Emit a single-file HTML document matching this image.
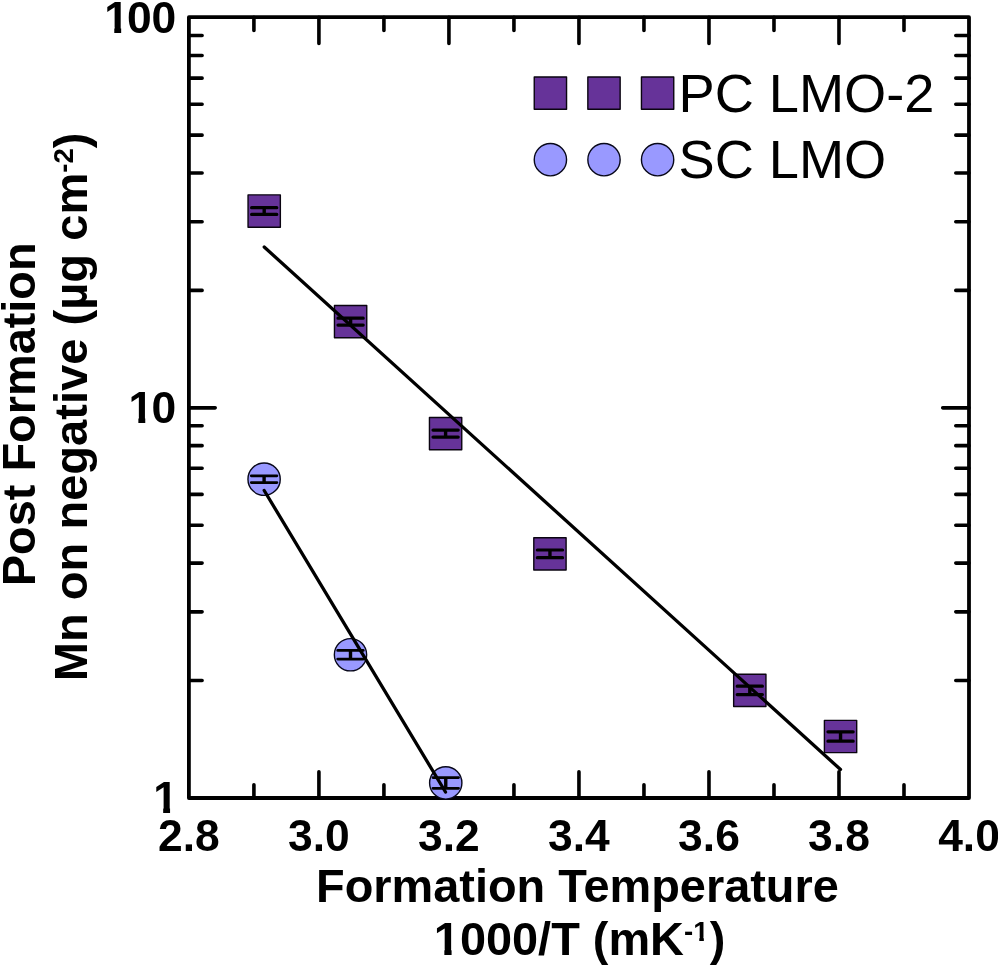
<!DOCTYPE html>
<html lang="en"><head><meta charset="utf-8"><title>Mn on negative vs formation temperature</title>
<style>html,body{margin:0;padding:0;background:#fff}body{width:998px;height:967px;overflow:hidden}svg{display:block}text{font-family:"Liberation Sans",Arial,Helvetica,sans-serif;fill:#000}.b{font-weight:bold}</style></head><body>
<svg width="998" height="967" viewBox="0 0 998 967">
<rect width="998" height="967" fill="#fff"/>
<path d="M253.91 17.20v13.2M253.91 798.00v-13.2M318.92 17.20v26.3M318.92 798.00v-26.3M383.92 17.20v13.2M383.92 798.00v-13.2M448.93 17.20v26.3M448.93 798.00v-26.3M513.94 17.20v13.2M513.94 798.00v-13.2M578.95 17.20v26.3M578.95 798.00v-26.3M643.96 17.20v13.2M643.96 798.00v-13.2M708.97 17.20v26.3M708.97 798.00v-26.3M773.98 17.20v13.2M773.98 798.00v-13.2M838.98 17.20v26.3M838.98 798.00v-26.3M903.99 17.20v13.2M903.99 798.00v-13.2M188.90 680.55h13.2M969.00 680.55h-13.2M188.90 611.85h13.2M969.00 611.85h-13.2M188.90 563.11h13.2M969.00 563.11h-13.2M188.90 525.30h13.2M969.00 525.30h-13.2M188.90 494.40h13.2M969.00 494.40h-13.2M188.90 468.28h13.2M969.00 468.28h-13.2M188.90 445.66h13.2M969.00 445.66h-13.2M188.90 425.70h13.2M969.00 425.70h-13.2M188.90 407.85h26.3M969.00 407.85h-26.3M188.90 290.40h13.2M969.00 290.40h-13.2M188.90 221.70h13.2M969.00 221.70h-13.2M188.90 172.96h13.2M969.00 172.96h-13.2M188.90 135.15h13.2M969.00 135.15h-13.2M188.90 104.25h13.2M969.00 104.25h-13.2M188.90 78.13h13.2M969.00 78.13h-13.2M188.90 55.51h13.2M969.00 55.51h-13.2M188.90 35.55h13.2M969.00 35.55h-13.2" fill="none" stroke="#000" stroke-width="3.6" stroke-linecap="round"/>
<rect x="188.9" y="17.2" width="780.10" height="780.80" fill="none" stroke="#000" stroke-width="3.8" stroke-linejoin="round"/>
<rect x="248.05" y="194.90" width="32.3" height="32.3" fill="#663399" stroke="#0a0410" stroke-width="1.4" stroke-linejoin="round"/>
<path d="M251.60 207.70h25.2M251.60 214.40h25.2" stroke="#000" stroke-width="3.2" stroke-linecap="round" fill="none"/><path d="M264.20 207.70v6.70" stroke="#000" stroke-width="3.4" fill="none"/>
<rect x="334.45" y="305.45" width="32.3" height="32.3" fill="#663399" stroke="#0a0410" stroke-width="1.4" stroke-linejoin="round"/>
<path d="M338.00 318.15h25.2M338.00 325.05h25.2" stroke="#000" stroke-width="3.2" stroke-linecap="round" fill="none"/><path d="M350.60 318.15v6.90" stroke="#000" stroke-width="3.4" fill="none"/>
<rect x="429.45" y="417.45" width="32.3" height="32.3" fill="#663399" stroke="#0a0410" stroke-width="1.4" stroke-linejoin="round"/>
<path d="M433.00 430.10h25.2M433.00 437.10h25.2" stroke="#000" stroke-width="3.2" stroke-linecap="round" fill="none"/><path d="M445.60 430.10v7.00" stroke="#000" stroke-width="3.4" fill="none"/>
<rect x="533.80" y="537.70" width="32.3" height="32.3" fill="#663399" stroke="#0a0410" stroke-width="1.4" stroke-linejoin="round"/>
<path d="M537.35 550.00h25.2M537.35 557.70h25.2" stroke="#000" stroke-width="3.2" stroke-linecap="round" fill="none"/><path d="M549.95 550.00v7.70" stroke="#000" stroke-width="3.4" fill="none"/>
<rect x="733.65" y="674.20" width="32.3" height="32.3" fill="#663399" stroke="#0a0410" stroke-width="1.4" stroke-linejoin="round"/>
<path d="M737.20 686.15h25.2M737.20 694.55h25.2" stroke="#000" stroke-width="3.2" stroke-linecap="round" fill="none"/><path d="M749.80 686.15v8.40" stroke="#000" stroke-width="3.4" fill="none"/>
<rect x="824.40" y="720.35" width="32.3" height="32.3" fill="#663399" stroke="#0a0410" stroke-width="1.4" stroke-linejoin="round"/>
<path d="M827.95 731.85h25.2M827.95 741.15h25.2" stroke="#000" stroke-width="3.2" stroke-linecap="round" fill="none"/><path d="M840.55 731.85v9.30" stroke="#000" stroke-width="3.4" fill="none"/>
<circle cx="264.10" cy="479.20" r="16.15" fill="#9999ff" stroke="#08081a" stroke-width="1.4"/>
<path d="M251.30 475.80h25.6M251.30 482.60h25.6" stroke="#000" stroke-width="2.8" stroke-linecap="round" fill="none"/><path d="M264.10 475.80v6.80" stroke="#000" stroke-width="3.4" fill="none"/>
<circle cx="350.50" cy="654.75" r="16.15" fill="#9999ff" stroke="#08081a" stroke-width="1.4"/>
<path d="M337.70 650.40h25.6M337.70 659.10h25.6" stroke="#000" stroke-width="2.8" stroke-linecap="round" fill="none"/><path d="M350.50 650.40v8.70" stroke="#000" stroke-width="3.4" fill="none"/>
<circle cx="445.75" cy="782.95" r="16.15" fill="#9999ff" stroke="#08081a" stroke-width="1.4"/>
<path d="M432.95 777.55h25.6M432.95 788.35h25.6" stroke="#000" stroke-width="2.8" stroke-linecap="round" fill="none"/><path d="M445.75 777.55v10.80" stroke="#000" stroke-width="3.4" fill="none"/>
<path d="M264.2 247L840.5 769.5M264.2 490.5L445.5 792" stroke="#000" stroke-width="3.3" stroke-linecap="round" fill="none"/>
<rect x="534.25" y="76.95" width="32.3" height="32.3" fill="#663399" stroke="#0a0410" stroke-width="1.4" stroke-linejoin="round"/>
<circle cx="550.40" cy="159.7" r="16.15" fill="#9999ff" stroke="#08081a" stroke-width="1.4"/>
<rect x="587.85" y="76.95" width="32.3" height="32.3" fill="#663399" stroke="#0a0410" stroke-width="1.4" stroke-linejoin="round"/>
<circle cx="604.00" cy="159.7" r="16.15" fill="#9999ff" stroke="#08081a" stroke-width="1.4"/>
<rect x="641.45" y="76.95" width="32.3" height="32.3" fill="#663399" stroke="#0a0410" stroke-width="1.4" stroke-linejoin="round"/>
<circle cx="657.60" cy="159.7" r="16.15" fill="#9999ff" stroke="#08081a" stroke-width="1.4"/>
<text x="678.5" y="111.6" font-size="54.2">PC LMO-2</text>
<text x="678.5" y="177.8" font-size="54.2">SC LMO</text>
<defs><clipPath id="k1"><rect x="-5" y="-53.28" width="900" height="47.75"/><rect x="9.96" y="-5.53" width="6.89" height="6.53"/><rect x="24.69" y="-5.53" width="900" height="22.20"/></clipPath><clipPath id="k2"><rect x="-5" y="-56.28" width="900" height="50.49"/><rect x="10.55" y="-5.79" width="7.24" height="6.79"/><rect x="26.08" y="-5.79" width="900" height="23.45"/></clipPath><clipPath id="k3"><rect x="-5" y="-33.12" width="900" height="29.30"/><rect x="6.04" y="-3.82" width="4.59" height="4.82"/><rect x="15.35" y="-3.82" width="900" height="13.80"/></clipPath></defs>
<text class="b" transform="translate(104.32 32.90) scale(1 1.0)" font-size="44.4" clip-path="url(#k1)">1</text>
<text class="b" transform="translate(176.3 32.90) scale(1 1.0)" font-size="44.4" text-anchor="end">00</text>
<text class="b" transform="translate(128.41 422.90) scale(1 1.0)" font-size="44.4" clip-path="url(#k1)">1</text>
<text class="b" transform="translate(176.3 422.90) scale(1 1.0)" font-size="44.4" text-anchor="end">0</text>
<text class="b" transform="translate(153.21 813.30) scale(1 1.0)" font-size="44.4" clip-path="url(#k1)">1</text>
<text class="b" transform="translate(188.90 850.6) scale(1 1.0)" font-size="44.4" text-anchor="middle">2.8</text>
<text class="b" transform="translate(318.92 850.6) scale(1 1.0)" font-size="44.4" text-anchor="middle">3.0</text>
<text class="b" transform="translate(448.93 850.6) scale(1 1.0)" font-size="44.4" text-anchor="middle">3.2</text>
<text class="b" transform="translate(578.95 850.6) scale(1 1.0)" font-size="44.4" text-anchor="middle">3.4</text>
<text class="b" transform="translate(708.97 850.6) scale(1 1.0)" font-size="44.4" text-anchor="middle">3.6</text>
<text class="b" transform="translate(838.98 850.6) scale(1 1.0)" font-size="44.4" text-anchor="middle">3.8</text>
<text class="b" transform="translate(969.00 850.6) scale(1 1.0)" font-size="44.4" text-anchor="middle">4.0</text>
<text class="b" x="577.4" y="902.2" font-size="46.9" text-anchor="middle">Formation Temperature</text>
<text class="b" transform="translate(433.8 955.2)" font-size="46.9" clip-path="url(#k2)">1000/T (mK</text>
<text class="b" x="684.03" y="940.7" font-size="27.6">-</text>
<text class="b" transform="translate(693.22 940.7)" font-size="27.6" clip-path="url(#k3)">1</text>
<text class="b" x="709.77" y="955.2" font-size="46.9">)</text>
<text class="b" transform="translate(34.7 414.3) rotate(-90)" font-size="46.9" text-anchor="middle">Post Formation</text>
<text class="b" transform="translate(87.4 406.9) rotate(-90)" font-size="47.1" text-anchor="middle">Mn on negative (µg cm<tspan font-size="27.6" dy="-14.5">-2</tspan><tspan dy="14.5">)</tspan></text>
</svg></body></html>
